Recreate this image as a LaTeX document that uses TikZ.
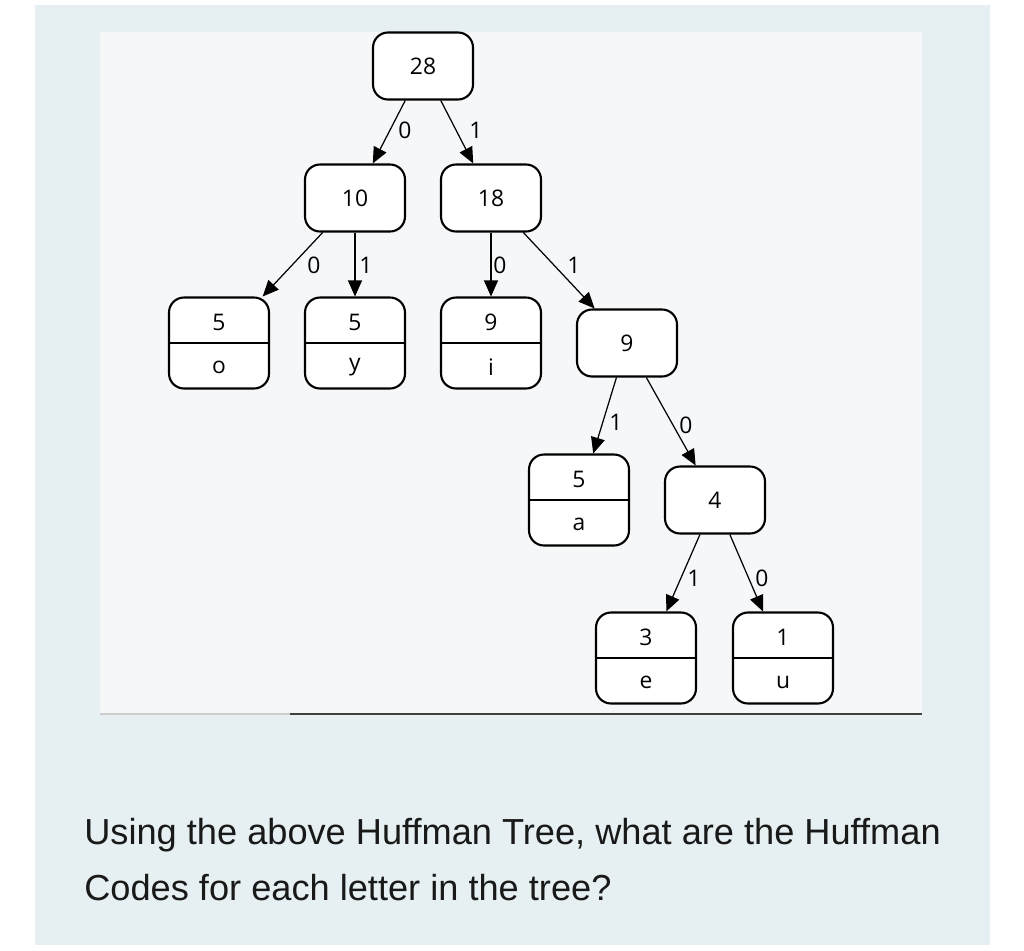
\documentclass[tikz,border=0pt]{standalone}
\usepackage{fontspec}
\setmainfont{Open Sans}
\newfontfamily\qfont{Liberation Sans}
\usetikzlibrary{arrows.meta}
\definecolor{outerbg}{HTML}{E6F0F2}
\definecolor{innerbg}{HTML}{F6F7F9}
\tikzset{
  inode/.style={draw=black, line width=1.2pt, rounded corners=0.3cm, minimum width=2cm, minimum height=1.34cm, fill=white, font=\fontsize{13}{15}\selectfont},
  leafbox/.style={draw=black, line width=1.2pt, rounded corners=0.3cm, minimum width=2cm, minimum height=1.82cm, fill=white},
  ltext/.style={font=\fontsize{13}{15}\selectfont, inner sep=0pt},
  edge/.style={line width=0.7pt, -{Triangle[length=0.32cm, width=0.28cm]}},
  elab/.style={font=\fontsize{13}{15}\selectfont, inner sep=1pt}
}
\begin{document}
\begin{tikzpicture}[x=0.02cm, y=-0.02cm]
\useasboundingbox (0,0) rectangle (1024,950);
\fill[white] (0,0) rectangle (1024,950);
\fill[outerbg] (35,5) rectangle (990,945);
\fill[innerbg] (100,32) rectangle (922,714);
\draw[gray!40, line width=1pt] (100,714) -- (290,714);
\draw[black!75, line width=1.5pt] (290,714) -- (922,714);

\node[inode] (n28) at (423,66) {28};
\node[inode] (n10) at (355,198) {10};
\node[inode] (n18) at (491,198) {18};
\node[inode] (n9) at (627,343) {9};
\node[inode] (n4) at (715,500) {4};

\foreach \nm/\cx/\cy/\w/\c in {lo/219/343/5/o, ly/355/343/5/y, li/491/343/9/i, la/579/500/5/a, le/646/658/3/e, lu/783/658/1/u}{
  \node[leafbox] (\nm) at (\cx,\cy) {};
  \draw[line width=1.2pt] (\nm.west) -- (\nm.east);
  \node[ltext] at (\cx,\cy-21) {\w};
  \node[ltext] at (\cx,\cy+24) {\c};
}

\draw[edge] (n28) -- (n10);
\draw[edge] (n28) -- (n18);
\draw[edge] (n10) -- (lo);
\draw[edge] (n10) -- (ly);
\draw[edge] (n18) -- (li);
\draw[edge] (n18) -- (n9);
\draw[edge] (n9) -- (la);
\draw[edge] (n9) -- (n4);
\draw[edge] (n4) -- (le);
\draw[edge] (n4) -- (lu);

\node[elab] (e1) at (405,130) {0};
\node[elab] (e2) at (476,130) {1};
\node[elab] (e3) at (314,265) {0};
\node[elab] (e4) at (366,265) {1};
\node[elab] (e5) at (500,265) {0};
\node[elab] (e6) at (574,265) {1};
\node[elab] (e7) at (616,422) {1};
\node[elab] (e8) at (686,425) {0};
\node[elab] (e9) at (694,578) {1};
\node[elab] (e10) at (762,578) {0};

\node[anchor=west, font=\qfont\fontsize{20.6}{24}\selectfont, text=black!90, inner sep=0pt] (q1) at (84,835) {Using the above Huffman Tree, what are the Huffman};
\node[anchor=west, font=\qfont\fontsize{20.6}{24}\selectfont, text=black!90, inner sep=0pt] (q2) at (84,888) {Codes for each letter in the tree?};
\end{tikzpicture}
\end{document}
